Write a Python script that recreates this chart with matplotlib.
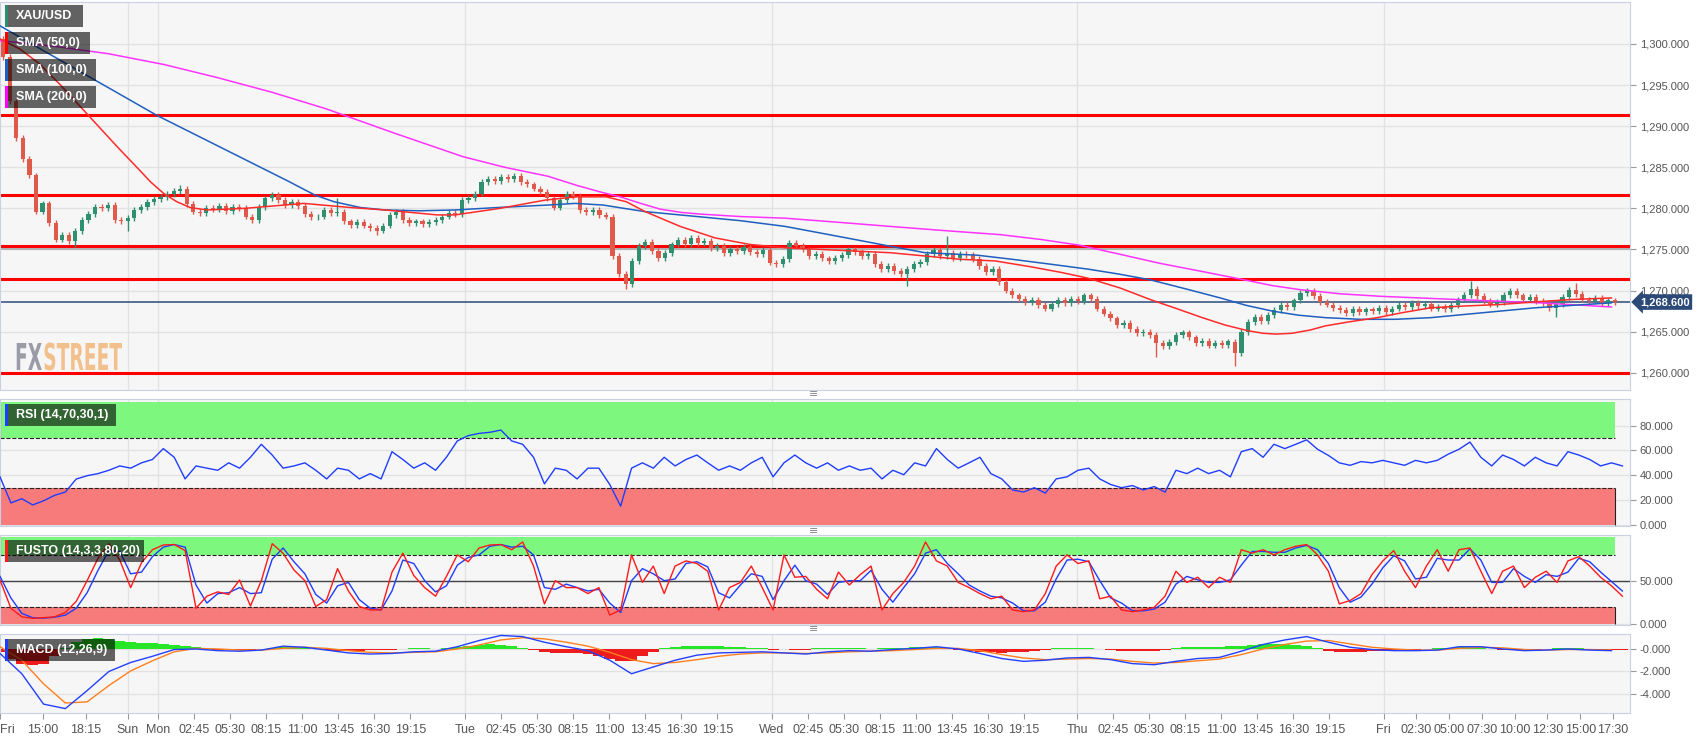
#!/usr/bin/env python3
"""
XAU/USD 30-minute candles with SMA overlays and RSI, FUSTO and MACD panes.
"""
import numpy as np
import matplotlib
matplotlib.use("Agg")
import matplotlib.pyplot as plt
import matplotlib.transforms as mtransforms
from matplotlib.patches import Rectangle, PathPatch
from matplotlib.textpath import TextPath
from matplotlib.font_manager import FontProperties

W, H = 1707, 738

# x axis = trading time in hours from the left edge of the chart
tick_hours = [0, 3.27, 6.53, 9.77, 12.06, 14.81, 17.56, 20.31, 23.06, 25.81, 28.56,
              31.31, 35.5, 38.25, 41.0, 43.75, 46.5, 49.25, 52.0, 54.75, 58.9, 61.65,
              64.4, 67.15, 69.9, 72.65, 75.4, 78.15, 82.2, 84.95, 87.7, 90.45, 93.2,
              95.95, 98.7, 101.45, 105.6, 108.1, 110.6, 113.1, 115.6, 118.1, 120.6, 123.1]
tick_labels = ["Fri", "15:00", "18:15", "Sun", "Mon", "02:45", "05:30", "08:15", "11:00",
               "13:45", "16:30", "19:15", "Tue", "02:45", "05:30", "08:15", "11:00",
               "13:45", "16:30", "19:15", "Wed", "02:45", "05:30", "08:15", "11:00",
               "13:45", "16:30", "19:15", "Thu", "02:45", "05:30", "08:15", "11:00",
               "13:45", "16:30", "19:15", "Fri", "02:30", "05:00", "07:30", "10:00",
               "12:30", "15:00", "17:30"]
x_max = 124.4

# 30-minute candles (open = previous close)
first_open = 1300.6
closes = [
    1298.4, 1293.0, 1288.6, 1286.0, 1284.0, 1279.6, 1280.6, 1278.2, 1276.2, 1276.8,
    1276.0, 1277.2, 1278.6, 1279.3, 1280.2, 1280.0, 1280.4, 1278.6, 1278.4, 1278.8,
    1279.8, 1280.2, 1280.8, 1281.1, 1281.4, 1281.7, 1282.1, 1282.4, 1280.5, 1279.6,
    1279.4, 1280.1, 1279.9, 1280.3, 1279.7, 1280.2, 1280.0, 1279.0, 1278.6, 1280.2,
    1281.2, 1281.6, 1281.0, 1280.4, 1280.8, 1280.3, 1279.3, 1278.9, 1279.0, 1279.8,
    1279.4, 1279.6, 1278.4, 1278.0, 1278.3, 1277.9, 1277.6, 1277.3, 1277.9, 1279.2,
    1279.6, 1278.6, 1278.2, 1278.4, 1278.1, 1278.3, 1278.6, 1279.0, 1279.4, 1279.3,
    1281.0, 1281.3, 1281.8, 1283.2, 1283.6, 1283.3, 1283.8, 1283.6, 1283.9, 1283.2,
    1282.9, 1282.4, 1282.0, 1281.2, 1280.1, 1281.0, 1281.8, 1281.5, 1279.8, 1279.5,
    1279.8, 1279.2, 1279.0, 1274.2, 1272.0, 1270.8, 1273.6, 1275.4, 1275.9, 1274.8,
    1274.0, 1274.6, 1275.6, 1276.2, 1275.7, 1276.4, 1275.8, 1276.0, 1275.2, 1275.4,
    1274.6, 1275.1, 1274.8, 1275.3, 1274.7, 1274.4, 1274.9, 1273.4, 1273.2, 1273.8,
    1275.8, 1275.4, 1275.0, 1274.2, 1274.5, 1273.9, 1273.6, 1274.0, 1274.3, 1275.0,
    1274.7, 1274.2, 1274.5, 1273.2, 1272.6, 1273.0, 1272.4, 1272.0, 1272.6, 1273.2,
    1273.5, 1274.4, 1274.9, 1274.2, 1274.6, 1274.0, 1274.5, 1274.3, 1273.8, 1273.0,
    1272.3, 1272.6, 1271.0, 1270.0, 1269.4, 1269.0, 1268.6, 1268.9, 1268.2, 1267.8,
    1268.4, 1268.9, 1268.5, 1269.0, 1268.7, 1269.4, 1269.0, 1267.8, 1267.2, 1266.6,
    1265.8, 1266.1, 1265.3, 1264.8, 1265.0, 1264.6, 1263.6, 1263.2, 1263.7, 1264.6,
    1264.9, 1264.3, 1263.6, 1263.9, 1263.3, 1263.6, 1263.4, 1263.8, 1262.4, 1265.0,
    1266.2, 1266.8, 1266.3, 1267.0, 1267.6, 1268.3, 1268.0, 1268.8, 1269.7, 1269.9,
    1269.3, 1268.6, 1268.3, 1267.9, 1267.6, 1267.3, 1267.8, 1267.4, 1267.7, 1267.5,
    1267.9, 1267.4, 1267.8, 1268.2, 1268.0, 1268.5, 1268.1, 1268.4, 1267.8, 1268.0,
    1267.7, 1268.2, 1268.9, 1269.5, 1270.2, 1269.3, 1268.7, 1268.3, 1268.6, 1269.5,
    1269.9, 1269.4, 1268.9, 1269.2, 1268.7, 1268.5, 1267.9, 1268.4, 1269.2, 1270.1,
    1269.6, 1268.9, 1268.7, 1269.1, 1268.5, 1268.8, 1268.6]
typical_wick = 0.35
highs_read = {27: 1282.8, 51: 1281.3, 144: 1276.6, 224: 1271.2, 240: 1270.9}
lows_read = {11: 1275.3, 19: 1277.2, 57: 1276.8, 95: 1270.2, 138: 1270.5,
             176: 1261.9, 188: 1260.8, 237: 1266.8}

# moving averages (hours, price)
sma50_t = [0, 1.5, 3, 4.5, 6, 7.5, 9, 10.5, 11.5, 12.5, 13.5, 14.5, 15.8, 18.7, 23.2,
           26.72, 29.39, 33.36, 34.73, 38.17, 41.6, 44.0, 46.26, 47.8, 49.24, 51.91,
           54.58, 57.25, 60.0, 62.6, 67.94, 73.28, 75.95, 78.63, 81.0, 83.05, 85.5,
           87.79, 89.8, 91.76, 93.5, 95.27, 96.4, 97.4, 98.6, 100.0, 101.15, 103.0,
           105.11, 107.0, 109.16, 111.5, 114.5, 117.0, 119.85, 122.98]
sma50 = [1300.6, 1299.4, 1297.6, 1295.2, 1292.6, 1290.0, 1287.4, 1284.9, 1283.2, 1281.8,
         1280.8, 1280.1, 1279.8, 1280.0, 1280.6, 1280.1, 1279.8, 1279.2, 1279.2, 1280.0,
         1281.0, 1281.4, 1281.4, 1280.8, 1279.6, 1277.8, 1276.4, 1275.6, 1275.2, 1275.0,
         1274.6, 1273.8, 1273.6, 1272.9, 1272.2, 1271.5, 1270.3, 1268.9, 1267.8, 1266.7,
         1265.8, 1265.1, 1264.8, 1264.7, 1264.8, 1265.2, 1265.7, 1266.2, 1266.7, 1267.3,
         1267.9, 1268.1, 1268.3, 1268.6, 1268.9, 1269.1]
sma100_t = [0, 11.98, 22.0, 24.05, 25.5, 27.5, 29.39, 32.0, 34.73, 38.0, 41.83, 43.89,
            46.03, 47.6, 49.24, 53.21, 56.5, 59.92, 62.6, 65.27, 67.9, 70.61, 74.58,
            77.25, 80.2, 83.05, 85.4, 87.79, 90.5, 93.13, 95.1, 97.1, 99.1, 101.15,
            103.8, 106.49, 109.2, 111.83, 114.5, 117.18, 120.0, 122.98]
sma100 = [1302.2, 1291.3, 1283.3, 1281.6, 1280.8, 1280.1, 1279.8, 1279.7, 1279.8, 1280.1,
          1280.4, 1280.6, 1280.4, 1280.0, 1279.6, 1279.0, 1278.5, 1277.8, 1277.0, 1276.2,
          1275.4, 1274.6, 1274.3, 1273.8, 1273.2, 1272.6, 1272.0, 1271.3, 1270.2, 1269.1,
          1268.2, 1267.5, 1267.0, 1266.7, 1266.5, 1266.5, 1266.7, 1267.1, 1267.5, 1267.9,
          1268.2, 1268.5]
sma200_t = [0, 4.2, 8.3, 12.5, 16.6, 20.8, 24.9, 30.0, 35.3, 38.5, 41.83, 44.0, 45.8,
            47.33, 48.9, 50.38, 52.0, 53.44, 56.5, 59.92, 64.0, 67.94, 72.0, 76.34, 79.5,
            82.44, 85.5, 88.55, 91.8, 94.96, 97.1, 99.24, 102.3, 105.34, 111.3, 117.56,
            122.98]
sma200 = [1300.4, 1299.7, 1298.8, 1297.5, 1295.9, 1294.1, 1292.1, 1289.2, 1286.3, 1285.0,
          1283.9, 1282.8, 1282.0, 1281.4, 1280.6, 1279.9, 1279.5, 1279.3, 1279.0, 1278.8,
          1278.3, 1277.8, 1277.3, 1276.8, 1276.2, 1275.5, 1274.4, 1273.3, 1272.3, 1271.3,
          1270.6, 1270.1, 1269.6, 1269.3, 1268.9, 1268.5, 1268.0]

levels = [1291.4, 1281.6, 1275.4, 1271.4, 1260.0]
ref_level = 1275.0
last_price = 1268.6
price_ticks = [1260, 1265, 1270, 1275, 1280, 1285, 1290, 1295, 1300]

# oscillators, one reading every 0.831 h
osc_step = 0.831
rsi = [38.7, 17.6, 21.0, 16.0, 19.3, 23.7, 26.4, 36.9, 39.6, 41.3,
       44.0, 47.5, 45.7, 50.0, 52.7, 61.5, 54.5, 37.0, 47.5, 45.7,
       44.0, 50.0, 45.7, 54.5, 65.0, 56.3, 45.7, 47.5, 50.0, 44.0,
       37.0, 45.7, 44.0, 37.0, 41.3, 37.0, 59.0, 52.7, 45.7, 50.0,
       44.0, 54.5, 67.7, 72.0, 73.8, 74.7, 76.5, 67.7, 65.0, 54.5,
       33.0, 45.7, 44.0, 37.0, 45.7, 45.7, 32.5, 15.0, 45.7, 50.0,
       45.7, 54.5, 47.5, 52.7, 56.3, 50.0, 44.0, 47.5, 44.0, 50.0,
       54.5, 38.7, 50.0, 56.3, 50.0, 45.7, 50.0, 44.0, 47.5, 44.0,
       45.7, 37.0, 44.0, 40.4, 50.0, 47.5, 61.5, 52.7, 45.7, 50.0,
       54.5, 41.3, 37.0, 28.1, 26.4, 29.9, 25.5, 37.0, 38.7, 44.0,
       45.7, 37.0, 32.5, 29.9, 31.6, 28.1, 30.8, 26.4, 44.0, 41.3,
       45.7, 41.3, 44.0, 38.7, 59.0, 61.5, 54.5, 65.0, 61.5, 65.0,
       68.6, 61.0, 56.0, 50.0, 48.0, 51.0, 50.0, 52.0, 50.0, 48.0,
       52.0, 50.0, 52.0, 57.0, 61.0, 66.8, 54.5, 47.5, 56.3, 52.7,
       47.5, 54.5, 50.0, 47.5, 59.0, 56.3, 52.7, 47.5, 50.0, 47.5]
fusto_k = [50.8, 18, 8, 6.2, 7, 8, 13, 26, 50, 76,
           93, 74, 42, 71, 86, 91.5, 92, 85, 18, 32,
           37, 34, 50.8, 20.6, 50, 93, 81.8, 62.4, 50, 20,
           28, 64, 38, 20, 16, 16, 60, 82, 56, 42,
           32, 55, 80, 72, 88, 91.5, 92, 86, 95, 67,
           23, 50, 42, 42, 35, 42, 10, 16, 80, 48,
           67, 35, 67, 73, 70, 61, 16, 42, 48, 67,
           42, 16, 80, 54, 55, 40, 29, 60, 45, 57,
           67, 16, 35, 48, 67, 95, 73, 67, 48, 42,
           35, 29, 32, 16, 14, 16, 35, 67, 80, 70,
           73, 29, 32, 16, 14, 16, 19, 32, 61, 48,
           54, 42, 54, 48, 86, 82, 86, 80, 86, 90,
           92, 80, 61, 23, 27, 35, 57, 73, 85, 61,
           42, 67, 86, 61, 86, 88, 61, 35, 61, 67,
           42, 54, 61, 48, 73, 78, 67, 54, 44, 32]
fusto_d = [55, 30, 12, 7, 6.5, 7.5, 10, 18, 36, 62,
           85, 84, 58, 60, 78, 89, 92, 89, 45, 24,
           35, 36, 42, 35, 36, 75, 88, 72, 58, 34,
           24, 44, 48, 28, 18, 16, 38, 74, 70, 50,
           37, 44, 68, 77, 80, 90, 92, 89, 90, 80,
           42, 40, 46, 42, 38, 40, 24, 13, 50, 64,
           58, 50, 52, 70, 72, 66, 36, 30, 45, 58,
           55, 28, 50, 68, 50, 46, 34, 48, 50, 50,
           62, 40, 25, 42, 58, 82, 86, 70, 58, 45,
           38, 32, 30, 24, 15, 15, 25, 52, 74, 75,
           72, 50, 30, 24, 15, 15, 17, 25, 46, 55,
           51, 48, 48, 51, 68, 84, 84, 83, 83, 88,
           91, 86, 70, 42, 25, 31, 46, 65, 79, 73,
           52, 54, 76, 74, 74, 87, 74, 48, 48, 64,
           55, 48, 57, 55, 60, 76, 72, 60, 49, 38]
macd_hist = [-0.3, -0.9, -1.3, -1.45, -1.3, -0.6, 0.1, 0.6, 0.9, 0.95,
             0.9, 0.7, 0.65, 0.55, 0.5, 0.45, 0.35, 0.25, 0.15, 0.05,
             -0.1, -0.1, -0.1, -0.05, 0.0, 0.1, 0.2, 0.15, 0.1, 0.0,
             -0.1, -0.15, -0.15, -0.15, -0.12, -0.1, -0.05, 0.0, 0.05, 0.05,
             0.0, 0.1, 0.2, 0.3, 0.35, 0.4, 0.35, 0.25, 0.1, -0.1,
             -0.25, -0.35, -0.4, -0.4, -0.45, -0.6, -0.9, -1.1, -1.1, -0.6,
             -0.3, 0.1, 0.2, 0.25, 0.3, 0.3, 0.25, 0.2, 0.15, 0.1,
             0.05, -0.05, 0.0, -0.05, -0.05, 0.05, 0.1, 0.1, 0.1, 0.05,
             0.0, 0.05, 0.1, 0.1, 0.15, 0.15, 0.15, 0.05, -0.05, -0.15,
             -0.25, -0.3, -0.35, -0.3, -0.25, -0.15, -0.05, 0.05, 0.1, 0.1,
             0.1, 0.0, -0.05, -0.15, -0.2, -0.2, -0.15, -0.05, 0.1, 0.15,
             0.2, 0.2, 0.2, 0.25, 0.3, 0.35, 0.4, 0.4, 0.4, 0.35,
             0.3, 0.1, -0.15, -0.3, -0.3, -0.25, -0.2, -0.15, -0.1, -0.05,
             -0.05, 0.0, 0.05, 0.1, 0.15, 0.15, 0.1, 0.0, -0.1, -0.1,
             -0.1, -0.05, 0.0, 0.05, 0.05, 0.05, 0.0, -0.05, -0.05, -0.05]
# MACD and signal lines, one reading every 1.662 h
line_step = 1.662
macd_line = [-0.4, -2.2, -4.9, -5.3, -3.7, -2.0, -1.2, -0.65, -0.05, 0.0,
             -0.15, -0.2, -0.1, 0.25, 0.15, -0.1, -0.35, -0.45, -0.4, -0.25,
             -0.2, 0.2, 0.75, 1.2, 1.1, 0.6, 0.2, -0.15, -1.0, -2.2,
             -1.6, -1.0, -0.55, -0.35, -0.3, -0.25, -0.35, -0.45, -0.25, -0.15,
             -0.2, -0.05, 0.05, 0.2, 0.0, -0.4, -0.85, -1.1, -1.0, -0.8,
             -0.75, -0.95, -1.3, -1.4, -1.1, -0.85, -0.75, -0.2, 0.4, 0.8,
             1.1, 0.6, 0.15, -0.05, -0.15, -0.15, -0.1, 0.2, 0.2, 0.0,
             -0.15, -0.1, 0.0, -0.1, -0.15]
macd_signal = [0.2, -1.0, -3.1, -4.8, -4.7, -3.25, -1.95, -1.05, -0.25, 0.05,
               0.0, -0.1, -0.1, 0.05, 0.15, 0.05, -0.15, -0.3, -0.35, -0.3,
               -0.25, 0.0, 0.35, 0.8, 1.0, 0.9, 0.6, 0.25, -0.3, -0.95,
               -1.3, -1.2, -0.95, -0.65, -0.45, -0.35, -0.35, -0.4, -0.35, -0.25,
               -0.2, -0.15, -0.05, 0.05, 0.05, -0.15, -0.5, -0.8, -0.95, -0.9,
               -0.85, -0.9, -1.1, -1.25, -1.2, -1.05, -0.9, -0.5, 0.0, 0.4,
               0.7, 0.75, 0.45, 0.15, 0.0, -0.1, -0.1, 0.05, 0.15, 0.1,
               -0.05, -0.1, -0.05, -0.05, -0.1]
macd_ticks = [-4, -2, 0]
macd_tick_labels = ["-4.000", "-2.000", "-0.000"]

GREEN_ZONE = '#7ef77e'
RED_ZONE = '#f77b7b'
GRID = '#e2e2e2'

plt.rcParams['font.family'] = ['Liberation Sans', 'DejaVu Sans']
fig = plt.figure(figsize=(W / 100, H / 100), dpi=100)
fig.patch.set_facecolor('white')


def panel(top, bottom):
    # top / bottom given in pixels from the top of the image
    return fig.add_axes([0, 1 - bottom / H, 1630 / W, (bottom - top) / H])


ax = panel(2, 390)
ax_rsi = panel(399, 526)
ax_sto = panel(535, 625)
ax_macd = panel(634, 713)

day_lines = [h for h, lab in zip(tick_hours, tick_labels)
             if lab in ("Sun", "Mon", "Tue", "Wed", "Thu", "Fri") and h > 0]


def style(a, yticks, ylabels, ylim):
    a.set_facecolor('#f6f6f6')
    a.set_xlim(0, x_max)
    a.set_ylim(*ylim)
    for s in a.spines.values():
        s.set_color('#c8d0e2')
    a.yaxis.tick_right()
    a.set_yticks(yticks)
    a.set_yticklabels(ylabels)
    a.tick_params(axis='y', length=4, color='#999999', labelsize=8,
                  labelcolor='#555555', pad=3)
    a.tick_params(axis='x', bottom=False, labelbottom=False)
    for y in yticks:
        a.axhline(y, color=GRID, lw=1, zorder=0)
    for d in day_lines:
        a.axvline(d, color=GRID, lw=1, zorder=0)


# ---- price pane ----
style(ax, price_ticks, [f"{v:,.3f}" for v in price_ticks], (1257.9, 1305.1))
n = len(closes)
t = 0.25 + 0.5 * np.arange(n)
c = np.array(closes)
o = np.concatenate([[first_open], c[:-1]])
hi = np.maximum(o, c) + typical_wick
lo = np.minimum(o, c) - typical_wick
for i, v in highs_read.items():
    hi[i] = v
for i, v in lows_read.items():
    lo[i] = v
col = np.where(c >= o, '#2f8f6f', '#df5a4b')

ax.axhline(ref_level, color='#a8a8a8', lw=1.2, zorder=1)
for lv in levels:
    ax.axhline(lv, color='#ff0000', lw=2.2, zorder=2)
ax.axhline(last_price, color='#2b4a78', lw=1.1, zorder=2)
ax.vlines(t, lo, hi, colors=col, lw=1, zorder=3)
ax.bar(t, np.maximum(np.abs(c - o), 0.08), bottom=np.minimum(o, c), width=0.32,
       color=col, zorder=4)
ax.plot(sma200_t, sma200, color='#ff33ff', lw=1.1, zorder=5)
ax.plot(sma100_t, sma100, color='#1f5fbf', lw=1.1, zorder=5)
ax.plot(sma50_t, sma50, color='#ff2a2a', lw=1.1, zorder=5)

trans = mtransforms.blended_transform_factory(ax.transAxes, ax.transData)
ax.text(1.006, last_price, f"{last_price:,.3f}", transform=trans, ha='left',
        va='center', fontsize=8, fontweight='bold', color='white', clip_on=False,
        bbox=dict(boxstyle='larrow,pad=0.25', fc='#2b4a78', ec='none'), zorder=10)

# ---- RSI pane ----
rsi_ticks = [0, 20, 40, 60, 80]
style(ax_rsi, rsi_ticks, [f"{v:.3f}" for v in rsi_ticks], (-1.05, 101.6))
x_end = t[-1]
ax_rsi.add_patch(Rectangle((0, 70), x_end, 29.4, fc=GREEN_ZONE, ec='none', zorder=1))
ax_rsi.add_patch(Rectangle((0, 0), x_end, 30, fc=RED_ZONE, ec='none', zorder=1))
ax_rsi.hlines([70, 30], 0, x_end, colors='#222222', lw=0.8, linestyles='--', zorder=2)
ax_rsi.vlines([0.02, x_end], [70, 0], [99.4, 30], colors='#222222', lw=0.8, zorder=2)
x_osc = osc_step * np.arange(len(rsi))
ax_rsi.plot(x_osc, rsi, color='#1f3dff', lw=1, zorder=3)

# ---- FUSTO pane ----
sto_ticks = [0, 50]
style(ax_sto, sto_ticks, [f"{v:.3f}" for v in sto_ticks], (-1.5, 103.1))
ax_sto.add_patch(Rectangle((0, 80), x_end, 20.5, fc=GREEN_ZONE, ec='none', zorder=1))
ax_sto.add_patch(Rectangle((0, 0), x_end, 20, fc=RED_ZONE, ec='none', zorder=1))
ax_sto.hlines([80, 20], 0, x_end, colors='#222222', lw=0.8, linestyles='--', zorder=2)
ax_sto.vlines([0.02, x_end], [80, 0], [100.5, 20], colors='#222222', lw=0.8, zorder=2)
ax_sto.axhline(50, color='#444444', lw=1, zorder=2)
ax_sto.plot(x_osc, fusto_d, color='#1f3dff', lw=1, zorder=3)
ax_sto.plot(x_osc, fusto_k, color='#ff1a1a', lw=1, zorder=4)

# ---- MACD pane ----
style(ax_macd, macd_ticks, macd_tick_labels, (-5.69, 1.33))
hist = np.array(macd_hist)
ax_macd.bar(x_osc, hist, width=osc_step, color=np.where(hist >= 0, '#27e627', '#ee1c1c'),
            zorder=2)
x_line = line_step * np.arange(len(macd_line))
ax_macd.plot(x_line, macd_signal, color='#ff7f1e', lw=1, zorder=3)
ax_macd.plot(x_line, macd_line, color='#2340ff', lw=1, zorder=4)
ax_macd.tick_params(axis='x', bottom=True, labelbottom=True, length=4, color='#999999',
                    labelsize=9, labelcolor='#555555', pad=4)
ax_macd.set_xticks(tick_hours)
ax_macd.set_xticklabels(tick_labels, fontfamily=['Liberation Sans Narrow', 'Liberation Sans'])
ax_macd.get_xticklabels()[0].set_ha('left')

# ---- label boxes ----
labels = [("XAU/USD", '#2e8b6e', 5, 78), ("SMA (50,0)", '#ff0000', 32, 85),
          ("SMA (100,0)", '#1f5fbf', 59, 91), ("SMA (200,0)", '#ff00ff', 86, 91),
          ("RSI (14,70,30,1)", '#1f3dff', 404, 111),
          ("FUSTO (14,3,3,80,20)", '#ff1a1a', 540, 139),
          ("MACD (12,26,9)", '#1f3dff', 639, 110)]
for text, stripe, top, width in labels:
    y0 = 1 - (top + 22) / H
    fig.add_artist(Rectangle((5 / W, y0), width / W, 22 / H, transform=fig.transFigure,
                             fc='black', alpha=0.6, ec='none', zorder=20))
    fig.add_artist(Rectangle((5 / W, y0), 3 / W, 22 / H, transform=fig.transFigure,
                             fc=stripe, ec='none', zorder=21))
    fig.text(16 / W, 1 - (top + 11) / H, text, color='white', fontsize=9,
             fontweight='bold', va='center', ha='left', zorder=22)

# ---- pane separators ----
for y in (394, 531, 629):
    fig.text(814 / W, 1 - y / H, "≡", color='#888888', fontsize=8, ha='center',
             va='center', family='DejaVu Sans')

# ---- FXSTREET watermark ----
fp = FontProperties(family='DejaVu Sans', weight='bold')
p_fx = TextPath((0, 0), "FX", size=40, prop=fp)
p_st = TextPath((0, 0), "STREET", size=40, prop=fp)
e_fx, e_st = p_fx.get_extents(), p_st.get_extents()
gap = 3
total = e_fx.x1 + gap + e_st.x1
sx = 107 / total
sy = 27 / e_fx.height
base_y = H - 370
for path, dx, color in ((p_fx, 0, '#9b9ba8'), (p_st, e_fx.x1 + gap, '#f2c08c')):
    tr = mtransforms.Affine2D().translate(dx, 0).scale(sx, sy).translate(15, base_y)
    fig.add_artist(PathPatch(path, transform=tr, fc=color, ec='none', zorder=1))

fig.savefig('out.png', dpi=100, facecolor='white')
